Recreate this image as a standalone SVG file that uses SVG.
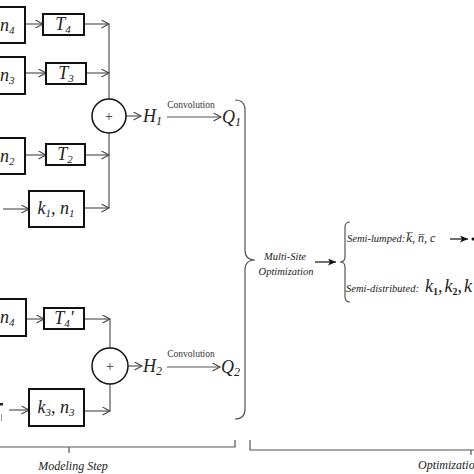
<svg xmlns="http://www.w3.org/2000/svg" width="474" height="474" viewBox="0 0 474 474">
<defs>
<marker id="oa" markerUnits="userSpaceOnUse" markerWidth="10" markerHeight="10" refX="8" refY="4.5" orient="auto">
<path d="M0.5,0.5 L8,4.5 L0.5,8.5" fill="none" stroke="#444" stroke-width="1.1"/>
</marker>
<marker id="fa" markerUnits="userSpaceOnUse" markerWidth="10" markerHeight="8" refX="8" refY="3.5" orient="auto">
<path d="M0,0 L8,3.5 L0,7 L2,3.5 Z" fill="#111"/>
</marker>
</defs>
<style>
.box{fill:#fff;stroke:#111;stroke-width:2}
.ln{fill:none;stroke:#555;stroke-width:1.2}
.ar{fill:none;stroke:#555;stroke-width:1.2;marker-end:url(#oa)}
.sum{fill:#fff;stroke:#111;stroke-width:1.5}
.t{font-family:'Liberation Serif','Times New Roman',serif;font-style:italic;fill:#222}
.m{font-size:18px;text-anchor:middle}
.s{font-size:10.5px}
.cv{font-family:'Liberation Serif','Times New Roman',serif;font-size:9.5px;fill:#333;text-anchor:middle}
</style>
<rect width="474" height="474" fill="#fff"/>

<g id="connectors">
<line class="ar" x1="25" y1="24" x2="43" y2="24"/>
<line class="ar" x1="84" y1="24" x2="109" y2="24"/>
<line class="ln" x1="109" y1="24" x2="109" y2="99"/>
<line class="ar" x1="25" y1="73" x2="46" y2="73"/>
<line class="ar" x1="86" y1="73" x2="109" y2="73"/>
<line class="ar" x1="25" y1="155" x2="46" y2="155"/>
<line class="ar" x1="85" y1="155" x2="109" y2="155"/>
<line class="ln" x1="109" y1="133" x2="109" y2="208"/>
<line class="ar" x1="3" y1="209" x2="29" y2="209"/>
<line class="ar" x1="84" y1="208" x2="109" y2="208"/>
<line class="ar" x1="126" y1="116" x2="141" y2="116"/>
<line class="ar" x1="167" y1="117" x2="221" y2="117"/>

<line class="ar" x1="26" y1="319" x2="44" y2="319"/>
<line class="ar" x1="84" y1="319" x2="110" y2="319"/>
<line class="ln" x1="110" y1="319" x2="110" y2="348"/>
<line class="ar" x1="9" y1="410" x2="29" y2="410"/>
<line class="ar" x1="84" y1="411" x2="110" y2="411"/>
<line class="ln" x1="110" y1="384" x2="110" y2="411"/>
<line class="ar" x1="128" y1="366" x2="142" y2="366"/>
<line class="ar" x1="167" y1="367" x2="220" y2="367"/>

<path class="ln" d="M235,100 Q245,100 245,110 L245,250 Q245,260 255,260 Q245,260 245,270 L245,409 Q245,419 235,419"/>
<line x1="315" y1="262" x2="336" y2="262" stroke="#111" stroke-width="1.2" marker-end="url(#fa)"/>
<path class="ln" d="M350,222 Q345,222 345,227 L345,257 Q345,262 340,262 Q345,262 345,267 L345,297 Q345,302 350,302"/>
<line x1="450" y1="239" x2="468" y2="239" stroke="#111" stroke-width="1.2" marker-end="url(#fa)"/>
<circle cx="473" cy="239" r="1.5" fill="#111"/>

<path class="ln" d="M0,447 L235,447 L235,440"/>
<line class="ln" x1="69" y1="447" x2="69" y2="453"/>
<path class="ln" d="M250,440 L250,450 L474,450"/>
<line class="ln" x1="471" y1="450" x2="471" y2="455"/>
</g>

<g id="n4a"><rect class="box" x="-30" y="7" width="55" height="36"/><text class="t" x="0" y="31" font-size="18">n<tspan font-size="11" dy="3">4</tspan></text></g>
<g id="T4"><rect class="box" x="43" y="14" width="41" height="21"/><text class="t m" x="63" y="30">T<tspan font-size="11" dy="3">4</tspan></text></g>
<g id="n3a"><rect class="box" x="-30" y="57" width="55" height="37"/><text class="t" x="0" y="81" font-size="18">n<tspan font-size="11" dy="3">3</tspan></text></g>
<g id="T3"><rect class="box" x="46" y="63" width="40" height="21"/><text class="t m" x="66" y="79">T<tspan font-size="11" dy="3">3</tspan></text></g>
<g id="n2a"><rect class="box" x="-30" y="138" width="55" height="36"/><text class="t" x="0" y="162" font-size="18">n<tspan font-size="11" dy="3">2</tspan></text></g>
<g id="T2"><rect class="box" x="46" y="144" width="39" height="21"/><text class="t m" x="65" y="160">T<tspan font-size="11" dy="3">2</tspan></text></g>
<g id="k1n1"><rect class="box" x="29" y="191" width="55" height="36"/><text class="t m" x="56" y="214">k<tspan font-size="11" dy="3">1</tspan><tspan dy="-3">, n</tspan><tspan font-size="11" dy="3">1</tspan></text></g>
<g id="sum1"><circle class="sum" cx="109" cy="116" r="17"/><text x="109" y="121" font-family="'Liberation Serif',serif" font-size="14" fill="#333" text-anchor="middle">+</text></g>
<g id="H1"><text class="t" x="143" y="122" font-size="18">H<tspan font-size="12" dy="3">1</tspan></text></g>
<g id="conv1"><text class="cv" x="191" y="108">Convolution</text></g>
<g id="Q1"><text class="t" x="222" y="123" font-size="18">Q<tspan font-size="12" dy="3">1</tspan></text></g>

<g id="n4b"><rect class="box" x="-30" y="299" width="56" height="37"/><text class="t" x="0" y="323" font-size="18">n<tspan font-size="11" dy="3">4</tspan></text></g>
<g id="T4p"><rect class="box" x="44" y="308" width="40" height="21"/><text class="t m" x="64" y="324">T<tspan font-size="11" dy="3">4</tspan><tspan dy="-3">'</tspan></text></g>
<g id="frag"><rect x="0" y="403" width="3" height="2.5" fill="#222"/><line x1="1.5" y1="414" x2="1.5" y2="421" stroke="#999" stroke-width="1"/></g>
<g id="k3n3"><rect class="box" x="29" y="389" width="55" height="37"/><text class="t m" x="56" y="413">k<tspan font-size="11" dy="3">3</tspan><tspan dy="-3">, n</tspan><tspan font-size="11" dy="3">3</tspan></text></g>
<g id="sum2"><circle class="sum" cx="110" cy="366" r="18"/><text x="110" y="371" font-family="'Liberation Serif',serif" font-size="14" fill="#333" text-anchor="middle">+</text></g>
<g id="H2"><text class="t" x="143" y="372" font-size="18">H<tspan font-size="12" dy="3">2</tspan></text></g>
<g id="conv2"><text class="cv" x="191" y="357">Convolution</text></g>
<g id="Q2"><text class="t" x="221" y="373" font-size="18">Q<tspan font-size="12" dy="3">2</tspan></text></g>

<g id="multisite"><text class="t s" x="285" y="260" text-anchor="middle">Multi-Site</text><text class="t s" x="286" y="275" text-anchor="middle">Optimization</text></g>
<g id="semilumped"><text class="t" x="347" y="242" font-size="10.5">Semi-lumped:<tspan font-size="13" dx="1">k&#773;</tspan><tspan font-size="12">, n&#773;, c</tspan></text></g>
<g id="semidist"><text class="t" x="346" y="292" font-size="10.5">Semi-distributed:<tspan font-size="18" dx="6">k</tspan><tspan font-size="10" font-weight="bold" font-style="normal" dy="3">1</tspan><tspan font-size="18" dy="-3">,</tspan><tspan font-size="18" dx="2">k</tspan><tspan font-size="10" font-weight="bold" font-style="normal" dy="3">2</tspan><tspan font-size="18" dy="-3">,</tspan><tspan font-size="18" dx="2">k</tspan></text></g>
<g id="labels"><text class="t" x="73" y="470" font-size="12" text-anchor="middle">Modeling Step</text><text class="t" x="418" y="469" font-size="12">Optimizatio</text></g>
</svg>
